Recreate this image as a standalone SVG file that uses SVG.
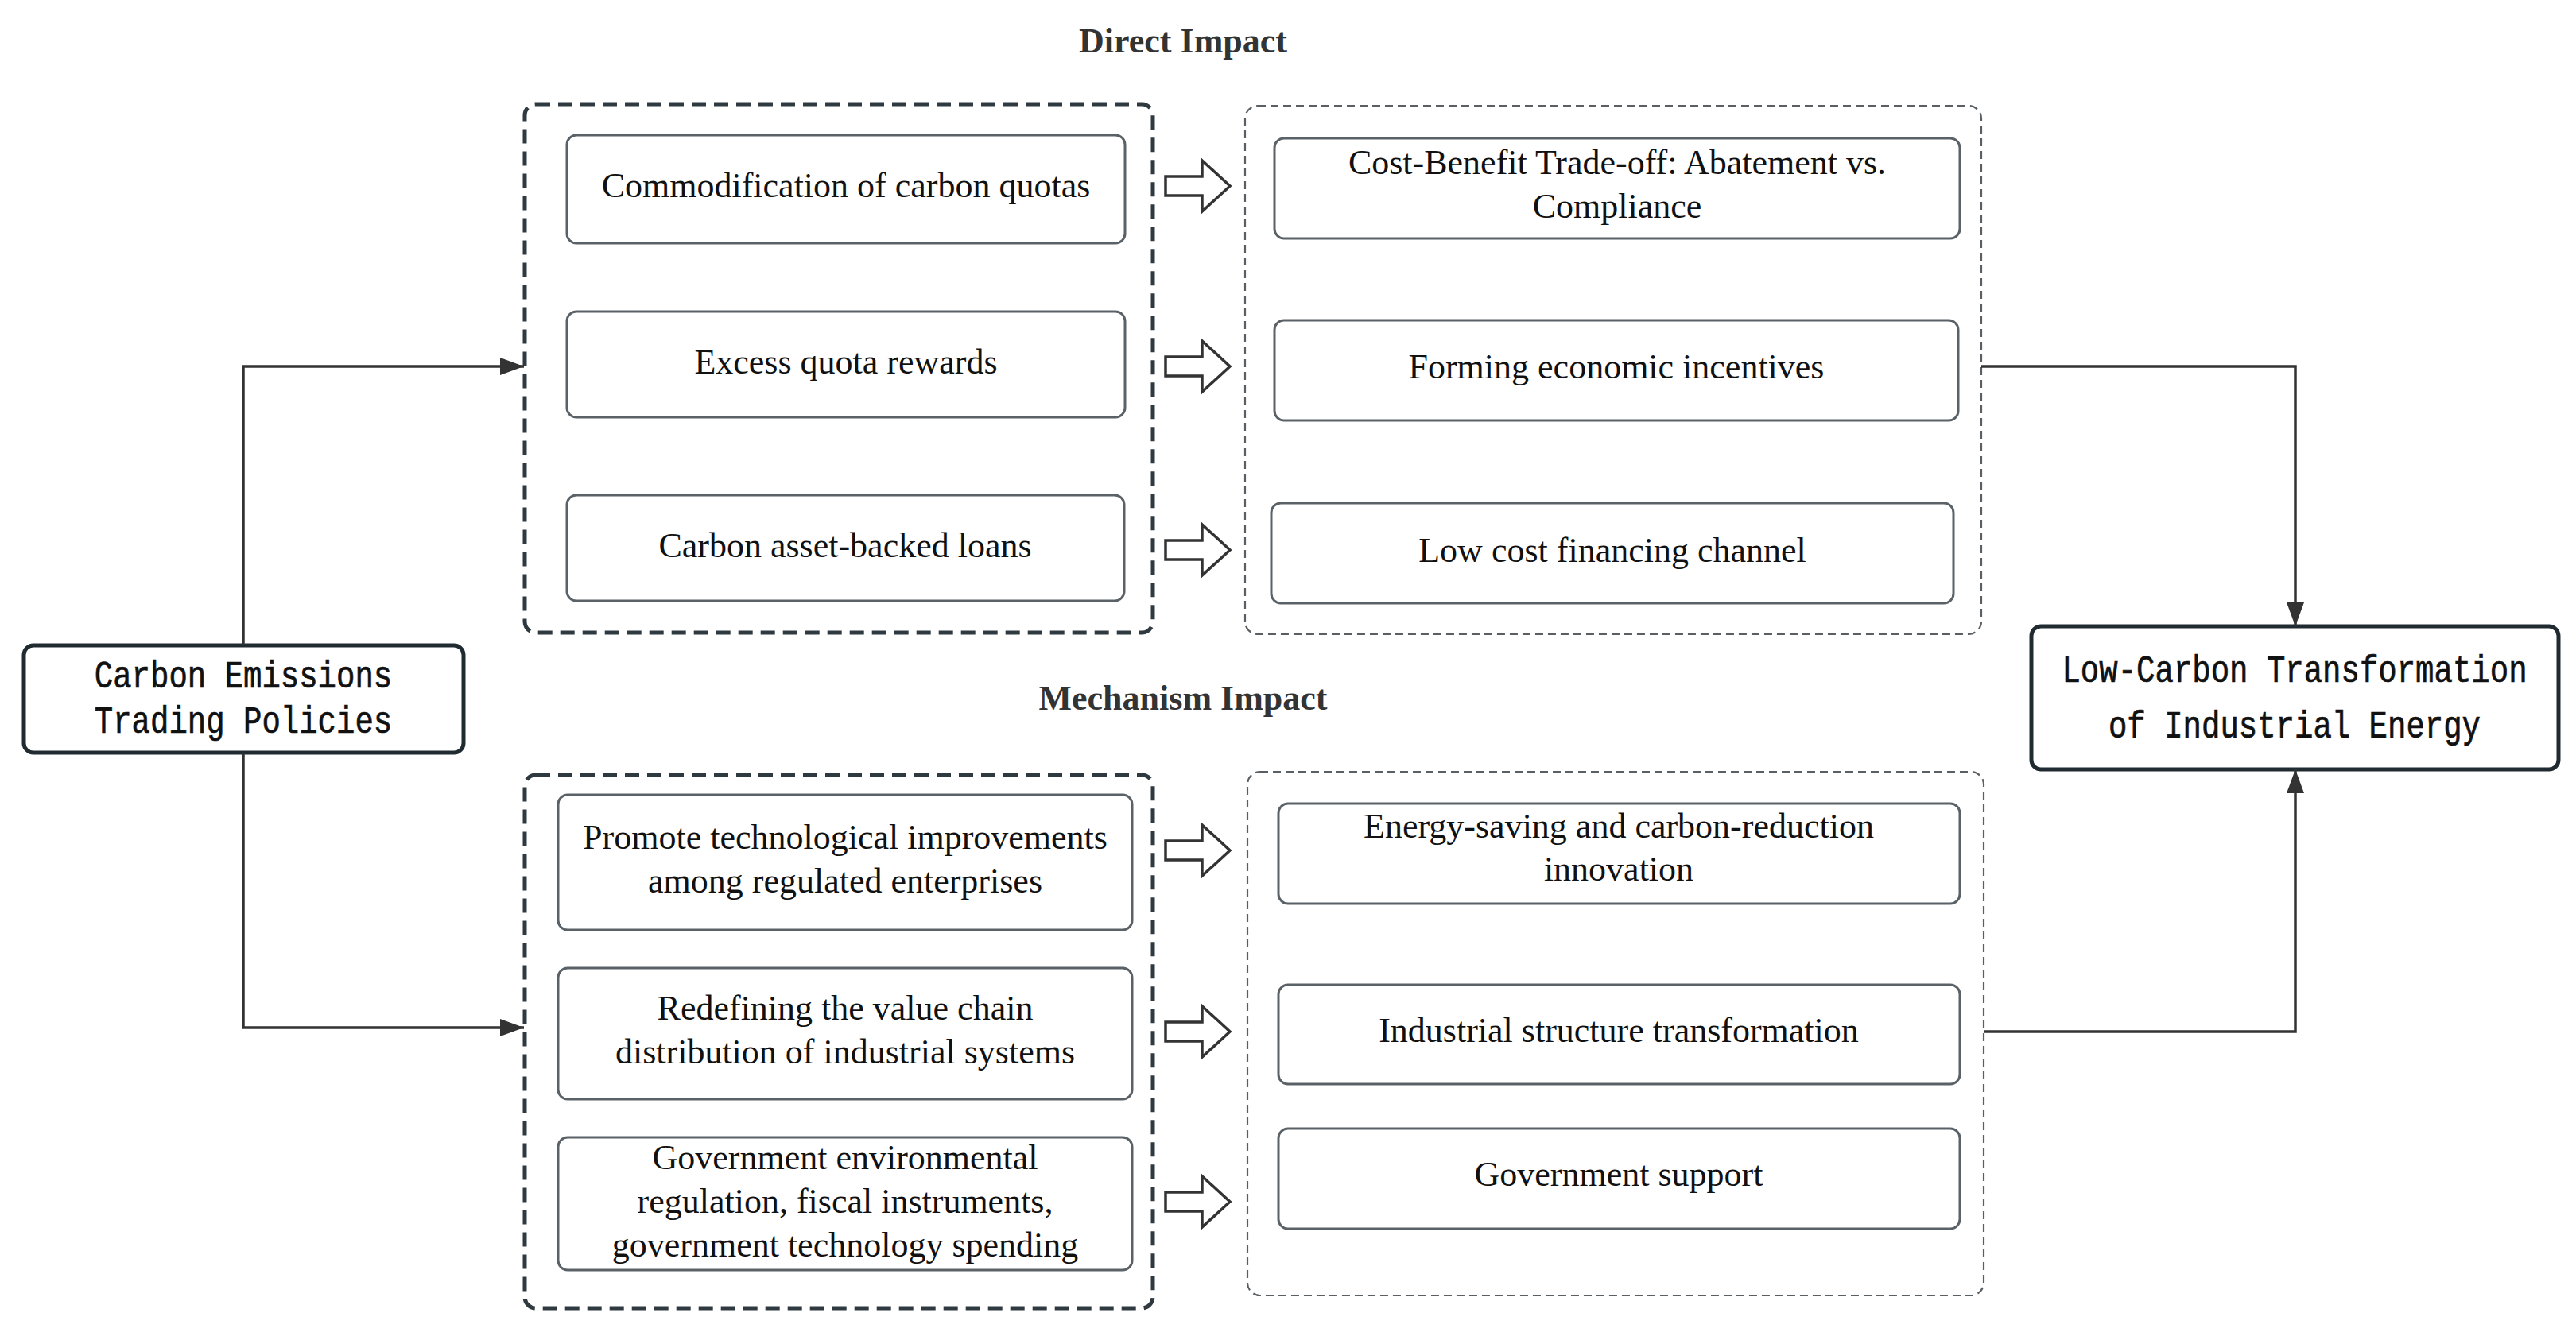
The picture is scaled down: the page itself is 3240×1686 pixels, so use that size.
<svg xmlns="http://www.w3.org/2000/svg" width="3240" height="1686" viewBox="0 0 3240 1686">
<style>
.bg{fill:#ffffff}
.grpThick{fill:none;stroke:#2f3a40;stroke-width:5;stroke-dasharray:18 10}
.grpThin{fill:none;stroke:#5a5f63;stroke-width:2.2;stroke-dasharray:10 6}
.box{fill:#ffffff;stroke:#5a6268;stroke-width:3}
.main{fill:#ffffff;stroke:#1f2b31;stroke-width:5}
.t{font-family:"Liberation Serif","Times New Roman",serif;font-size:44px;fill:#111;text-anchor:middle}
.title{font-family:"Liberation Serif","Times New Roman",serif;font-size:44px;font-weight:bold;fill:#333;text-anchor:middle}
.m{font-family:"Liberation Mono","DejaVu Sans Mono",monospace;font-size:39px;fill:#111;text-anchor:middle;stroke:#111;stroke-width:0.6}
.conn{fill:none;stroke:#333;stroke-width:3.5}
.hollow{fill:#ffffff;stroke:#333;stroke-width:3.5;stroke-linejoin:miter}
</style>
<defs>
<marker id="ah" viewBox="0 0 30 22" refX="30" refY="11" markerWidth="30" markerHeight="22" markerUnits="userSpaceOnUse" orient="auto">
<path d="M0,0 L30,11 L0,22 Z" fill="#333"/>
</marker>
<path id="hollowArrow" class="hollow" d="M0,-12 L46,-12 L46,-32 L81,0 L46,32 L46,12 L0,12 Z"/>
</defs>
<rect class="bg" x="0" y="0" width="3240" height="1686"/>

<text class="title" x="1488" y="66">Direct Impact</text>
<text class="title" x="1488" y="893">Mechanism Impact</text>

<g id="group-direct-left"><rect class="grpThick" x="660" y="131" width="790" height="665" rx="14"/></g>
<g id="group-direct-right"><rect class="grpThin" x="1566" y="133" width="926" height="665" rx="16"/></g>
<g id="group-mech-left"><rect class="grpThick" x="660" y="975" width="790" height="671" rx="14"/></g>
<g id="group-mech-right"><rect class="grpThin" x="1569" y="971" width="926" height="659" rx="16"/></g>

<g id="node-ets">
<rect class="main" x="30" y="812" width="553" height="135" rx="12"/>
<text class="m" transform="translate(306,865) scale(1,1.22)">Carbon Emissions</text>
<text class="m" transform="translate(306,922) scale(1,1.22)">Trading Policies</text>
</g>

<g id="node-lct">
<rect class="main" x="2555" y="788" width="663" height="180" rx="12"/>
<text class="m" transform="translate(2886,858) scale(1,1.22)">Low-Carbon Transformation</text>
<text class="m" transform="translate(2886,928) scale(1,1.22)">of Industrial Energy</text>
</g>

<g id="node-d1"><rect class="box" x="713" y="170" width="702" height="136" rx="12"/><text class="t" x="1064" y="248">Commodification of carbon quotas</text></g>
<g id="node-d2"><rect class="box" x="713" y="392" width="702" height="133" rx="12"/><text class="t" x="1064" y="470">Excess quota rewards</text></g>
<g id="node-d3"><rect class="box" x="713" y="623" width="701" height="133" rx="12"/><text class="t" x="1063" y="701">Carbon asset-backed loans</text></g>

<g id="node-d4"><rect class="box" x="1603" y="174" width="862" height="126" rx="12"/><text class="t" x="2034" y="219">Cost-Benefit Trade-off: Abatement vs.</text><text class="t" x="2034" y="274">Compliance</text></g>
<g id="node-d5"><rect class="box" x="1603" y="403" width="860" height="126" rx="12"/><text class="t" x="2033" y="476">Forming economic incentives</text></g>
<g id="node-d6"><rect class="box" x="1599" y="633" width="858" height="126" rx="12"/><text class="t" x="2028" y="707">Low cost financing channel</text></g>

<g id="node-m1"><rect class="box" x="702" y="1000" width="722" height="170" rx="12"/><text class="t" x="1063" y="1068">Promote technological improvements</text><text class="t" x="1063" y="1123">among regulated enterprises</text></g>
<g id="node-m2"><rect class="box" x="702" y="1218" width="722" height="165" rx="12"/><text class="t" x="1063" y="1283">Redefining the value chain</text><text class="t" x="1063" y="1338">distribution of industrial systems</text></g>
<g id="node-m3"><rect class="box" x="702" y="1431" width="722" height="167" rx="12"/><text class="t" x="1063" y="1471">Government environmental</text><text class="t" x="1063" y="1526">regulation, fiscal instruments,</text><text class="t" x="1063" y="1581">government technology spending</text></g>

<g id="node-m4"><rect class="box" x="1608" y="1011" width="857" height="126" rx="12"/><text class="t" x="2036" y="1054">Energy-saving and carbon-reduction</text><text class="t" x="2036" y="1108">innovation</text></g>
<g id="node-m5"><rect class="box" x="1608" y="1239" width="857" height="125" rx="12"/><text class="t" x="2036" y="1311">Industrial structure transformation</text></g>
<g id="node-m6"><rect class="box" x="1608" y="1420" width="857" height="126" rx="12"/><text class="t" x="2036" y="1492">Government support</text></g>

<g id="connectors">
<path class="conn" d="M306,812 V461 H659" marker-end="url(#ah)"/>
<path class="conn" d="M306,947 V1293 H659" marker-end="url(#ah)"/>
<path class="conn" d="M2492,461 H2887 V788" marker-end="url(#ah)"/>
<path class="conn" d="M2495,1298 H2887 V968" marker-end="url(#ah)"/>
<use href="#hollowArrow" x="1466" y="234"/>
<use href="#hollowArrow" x="1466" y="461"/>
<use href="#hollowArrow" x="1466" y="692"/>
<use href="#hollowArrow" x="1466" y="1070"/>
<use href="#hollowArrow" x="1466" y="1298"/>
<use href="#hollowArrow" x="1466" y="1512"/>
</g>
</svg>
